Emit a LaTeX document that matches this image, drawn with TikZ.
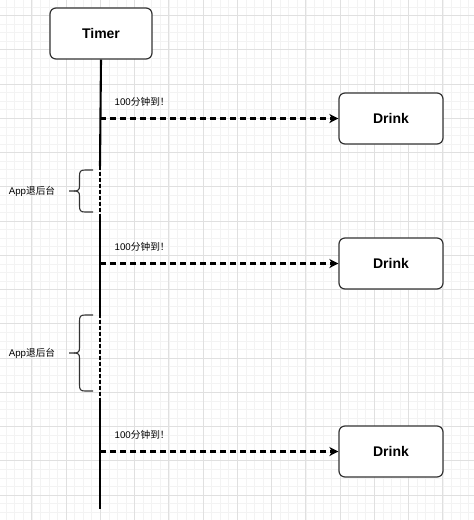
\documentclass[tikz,border=0pt]{standalone}
\usepackage{fontspec}
\setmainfont{Liberation Sans}
\newfontfamily\cjk{Noto Sans CJK SC}
\usetikzlibrary{arrows.meta}
\definecolor{gridmaj}{HTML}{E0E0E0}
\definecolor{gridmin}{HTML}{F3F3F3}
\definecolor{edge}{HTML}{333333}
\tikzset{
  boxnode/.style={draw=edge, line width=1.2pt, rounded corners=6pt, fill=white,
    font=\fontsize{14}{16}\selectfont\bfseries, align=center, inner sep=0pt},
  lbl/.style={font=\fontsize{9.7}{11}\selectfont, inner sep=0pt},
  tline/.style={line width=2.1pt, black},
  tdash/.style={line width=2.1pt, black, dash pattern=on 3.5pt off 2.5pt},
  msg/.style={line width=2.1pt, black, dash pattern=on 6pt off 4pt,
    -{Stealth[length=9pt,width=9pt,inset=2.5pt]}},
  bracepath/.style={draw=edge, line width=1.1pt},
  gmin/.style={draw=gridmin, line width=0.6pt},
  gmaj/.style={draw=gridmaj, line width=0.8pt},
}
\begin{document}
\begin{tikzpicture}[x=1pt,y=-1pt]
\useasboundingbox (0,0) rectangle (474,520);
\fill[white] (0,0) rectangle (474,520);
\begin{scope}
\clip (0,0) rectangle (474,520);
\foreach \i in {-4,...,56} {
  \draw[gmin] ({31.8+\i*8.5625},0) -- ++(0,520);
}
\foreach \i in {-2,...,61} {
  \draw[gmin] (0,{15.5+\i*8.5625}) -- ++(474,0);
}
\foreach \i in {-1,...,14} {
  \draw[gmaj] ({31.8+\i*34.25},0) -- ++(0,520);
}
\foreach \i in {-1,...,15} {
  \draw[gmaj] (0,{15.5+\i*34.25}) -- ++(474,0);
}
\end{scope}

% timeline
\node[boxnode, minimum width=102pt, minimum height=51pt] (timer) at (101,33.5) {Timer};
\coordinate (t1) at (100,166);
\coordinate (t2) at (100,216);
\coordinate (t3) at (100,314);
\coordinate (t4) at (100,402);
\coordinate (t5) at (100,509);
\draw[tline] (timer.south) -- (t1);
\draw[tdash] (t1) -- (t2);
\draw[tline] (t2) -- (t3);
\draw[tdash] (t3) -- (t4);
\draw[tline] (t4) -- (t5);

% drinks
\node[boxnode, minimum width=104pt, minimum height=51pt] (d1) at (391,118.5) {Drink};
\node[boxnode, minimum width=104pt, minimum height=51pt] (d2) at (391,263.5) {Drink};
\node[boxnode, minimum width=104pt, minimum height=51pt] (d3) at (391,451.5) {Drink};

\coordinate (m1) at (100,118.5);
\coordinate (m2) at (100,263.5);
\coordinate (m3) at (100,451.5);
\draw[msg] (m1) -- (d1.west);
\draw[msg] (m2) -- (d2.west);
\draw[msg] (m3) -- (d3.west);

\node[lbl, anchor=west] (l1) at (114.5,102) {100{\cjk 分钟到！}};
\node[lbl, anchor=west] (l2) at (114.5,247) {100{\cjk 分钟到！}};
\node[lbl, anchor=west] (l3) at (114.5,435) {100{\cjk 分钟到！}};

% braces
\draw[bracepath] (93,170) -- (85,170) .. controls (80.5,170) and (79.5,171.5) .. (79.5,176)
  -- (79.5,186) .. controls (79.5,190) and (78,191) .. (74,191) -- (69,191);
\draw[bracepath] (74,191) .. controls (78,191) and (79.5,192) .. (79.5,196)
  -- (79.5,206) .. controls (79.5,210.5) and (80.5,212) .. (85,212) -- (93,212);
\node[lbl] (a1) at (32,191.5) {App{\cjk 退后台}};

\draw[bracepath] (93,315) -- (85,315) .. controls (80.5,315) and (79.5,316.5) .. (79.5,321)
  -- (79.5,348) .. controls (79.5,352) and (78,353) .. (74,353) -- (69,353);
\draw[bracepath] (74,353) .. controls (78,353) and (79.5,354) .. (79.5,358)
  -- (79.5,385) .. controls (79.5,389.5) and (80.5,391) .. (85,391) -- (93,391);
\node[lbl] (a2) at (32,353.5) {App{\cjk 退后台}};
\end{tikzpicture}
\end{document}
